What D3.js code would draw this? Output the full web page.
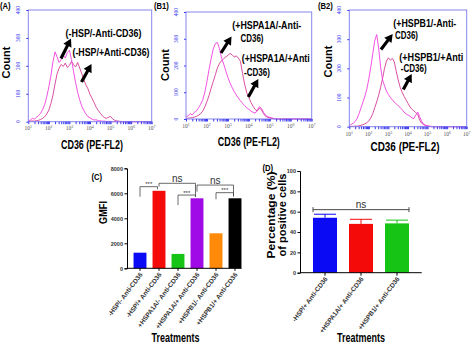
<!DOCTYPE html>
<html>
<head>
<meta charset="utf-8">
<style>
body { margin: 0; background: #fff; }
svg { display: block; font-family: "Liberation Sans", Arial, sans-serif; }
.nb { font-weight: bold; }
</style>
</head>
<body>
<script src="https://cdn.jsdelivr.net/npm/d3@7/dist/d3.min.js"></script>
<script>
var width = 474, height = 344;

// flow histograms: counts per 0.1 log10 bin, starting at 10^1
var binStart = 1, binStep = 0.1;
var hspNeg = [3,6,12,9,16,22,30,44,62,90,125,165,215,250,232,212,222,238,228,248,256,222,180,140,105,78,56,40,28,18,14,9,6,7,4,3,2,2,1,1,1,0,0,0,0,0,0,0,0];
var hspPos = [1,2,3,2,4,5,8,12,18,28,42,65,95,135,172,192,205,198,210,194,202,216,204,196,212,192,172,150,132,118,98,84,68,52,40,30,21,15,12,16,19,10,5,3,2,1,0,0,0];
var a1aNeg = [8,12,20,15,25,30,42,55,72,100,140,185,225,262,282,286,262,228,205,180,155,135,118,102,90,78,68,58,50,42,36,30,25,22,32,46,40,25,14,9,6,4,2,1,0,0,0,0,0];
var a1aPos = [2,3,4,5,7,10,14,20,30,45,65,88,115,140,165,192,208,218,226,232,238,245,240,232,236,228,215,170,130,98,80,62,48,36,30,40,35,20,10,6,4,2,1,0,0,0,0,0,0];
var b1Neg = [4,8,12,18,28,45,65,85,105,130,165,205,250,295,316,270,205,160,140,122,110,100,92,84,78,72,66,58,50,44,40,36,30,28,40,50,34,18,9,5,3,2,1,0,0,0,0,0,0];
var b1Pos = [0,1,1,2,2,3,5,7,10,14,20,30,45,65,85,108,135,165,200,225,236,228,234,222,190,160,135,118,104,92,80,68,60,54,48,42,22,12,7,4,2,1,0,0,0,0,0,0,0];
var countTicks = [0, 100, 200, 300, 400];
var decades = [1, 2, 3, 4, 5, 6, 7];

// GMFI
var gmfiLabels = ["-HSP/- Anti-CD36", "-HSP/+ Anti-CD36", "+HSPA1A/- Anti-CD36", "+HSPA1A/+ Anti-CD36", "+HSPB1/- Anti-CD36", "+HSPB1/+ Anti-CD36"];
var gmfiValues = [1250, 6200, 1150, 5600, 2800, 5600];
var gmfiColors = ["#0a0af5", "#f50a0a", "#16c416", "#a00ae6", "#ff8a0a", "#000000"];
var gmfiTicks = [0, 2000, 4000, 6000, 8000];
// comparisons: bar a vs bar b, bracket top and leg ends in GMFI units
var gmfiSig = [
  {a: 0, b: 1, text: "***", top: 6530, endA: 5730, endB: 6320},
  {a: 1, b: 3, text: "ns",  top: 6800, endA: 6530, endB: 5730},
  {a: 2, b: 3, text: "***", top: 5860, endA: 5060, endB: 5700},
  {a: 3, b: 5, text: "ns",  top: 6660, endA: 6130, endB: 5730},
  {a: 4, b: 5, text: "***", top: 6050, endA: 5520, endB: 5780}
];

// % positive cells
var pctLabels = ["-HSP/+ Anti-CD36", "+HSPA1A/+ Anti-CD36", "+HSPB1/+ Anti-CD36"];
var pctValues = [54, 48, 48.5];
var pctErrors = [3.5, 4.5, 3.2];
var pctColors = ["#0a0af5", "#f50a0a", "#16c416"];
var pctTicks = [0, 20, 40, 60, 80, 100];
var pctNs = 62;

var svg = d3.select("body").append("svg")
    .attr("width", width)
    .attr("height", height);

var negColor = "#f03ee0", posColor = "#d23c96";

function arrow(g, x1, y1, x2, y2) {
  var dx = x2 - x1, dy = y2 - y1, len = Math.sqrt(dx*dx + dy*dy);
  var ux = dx/len, uy = dy/len, px = -uy, py = ux;
  var hl = 8, hw = 4.5, sw = 1.6;
  var bx = x2 - ux*hl, by = y2 - uy*hl;
  var pts = [
    [x1 + px*sw, y1 + py*sw], [bx + px*sw, by + py*sw], [bx + px*hw, by + py*hw],
    [x2, y2],
    [bx - px*hw, by - py*hw], [bx - px*sw, by - py*sw], [x1 - px*sw, y1 - py*sw]
  ];
  g.append("polygon").attr("points", pts.map(function(p){ return p.join(","); }).join(" ")).attr("fill", "#000");
}

function histPanel(p) {
  var x = d3.scaleLog().domain([10, 1e7]).range([p.left, p.right]);
  var y = d3.scaleLinear().domain([0, 400]).range([p.bottom, p.top]);
  var g = svg.append("g");

  var line = d3.line()
    .x(function(d) { return x(Math.pow(10, d[0])); })
    .y(function(d) { return y(d[1]); });

  p.series.forEach(function(s) {
    var pts = s.values.map(function(v, i) { return [binStart + i*binStep, v]; });
    pts.push([7, 0]);
    g.append("path").attr("d", line(pts))
      .attr("fill", "none").attr("stroke", s.color).attr("stroke-width", 0.9);
  });

  // frame
  g.append("rect")
    .attr("x", p.left).attr("y", p.top)
    .attr("width", p.right - p.left).attr("height", p.bottom - p.top)
    .attr("fill", "none").attr("stroke", "#8585ee").attr("stroke-width", 1);

  // minor ticks along the log axis
  var minor = [];
  for (var e = 1; e < 7; e++) for (var k = 1; k < 10; k++) minor.push(k * Math.pow(10, e));
  minor.push(1e7);
  g.append("g").attr("transform", "translate(0," + p.bottom + ")")
    .call(d3.axisBottom(x).tickValues(minor).tickSize(2.5).tickFormat(""))
    .call(function(a) { a.select(".domain").remove(); a.selectAll("line").attr("stroke", "#3a3aee"); });

  g.append("g").attr("transform", "translate(" + p.left + ",0)")
    .call(d3.axisLeft(y).tickValues(countTicks).tickSize(2).tickFormat(""))
    .call(function(a) { a.select(".domain").remove(); a.selectAll("line").attr("stroke", "#3a3aee"); });

  g.selectAll(".yl").data(countTicks).enter().append("text")
    .attr("transform", function(d) { return "translate(" + (p.left - 8) + "," + y(d) + ") rotate(-90)"; })
    .attr("text-anchor", "middle")
    .attr("font-size", 5.5).attr("fill", "#3a3aee").attr("font-family", "Liberation Serif, serif")
    .text(function(d) { return d; });

  var xl = g.selectAll(".xl").data(decades).enter().append("text")
    .attr("x", function(d) { return x(Math.pow(10, d)); })
    .attr("y", p.bottom + p.labelDy)
    .attr("text-anchor", "middle")
    .attr("font-size", 5.5).attr("fill", "#555").attr("font-family", "Liberation Serif, serif");
  xl.append("tspan").text("10");
  xl.append("tspan").attr("dy", -2.5).attr("font-size", 4).text(function(d) { return d; });

  g.append("text").attr("class", "nb")
    .attr("x", (p.left + p.right)/2 + p.titleDx).attr("y", p.titleY)
    .attr("text-anchor", "middle").attr("font-size", 12)
    .attr("data-w", p.titleW)
    .text("CD36 (PE-FL2)");

  g.append("text").attr("class", "nb")
    .attr("transform", "translate(" + p.countX + "," + p.countY + ") rotate(-90)")
    .attr("text-anchor", "middle").attr("font-size", 11)
    .text("Count");

  g.append("text").attr("class", "nb")
    .attr("x", p.tagX).attr("y", p.tagY).attr("font-size", 9)
    .attr("data-f", 0.85)
    .text(p.tag);

  p.notes.forEach(function(n) {
    g.append("text").attr("class", "nb")
      .attr("x", n[1]).attr("y", n[2]).attr("font-size", 10.5)
      .attr("data-w", n[3])
      .text(n[0]);
  });
  p.arrows.forEach(function(a) { arrow(g, a[0], a[1], a[2], a[3]); });
}

histPanel({
  left: 28.3, right: 151.7, top: 10, bottom: 121.7, labelDy: 8.5,
  titleDx: 2, titleY: 149, titleW: 62, countX: 10, countY: 62.5, tag: "(A)", tagX: 0, tagY: 9,
  series: [{values: hspPos, color: posColor}, {values: hspNeg, color: negColor}],
  notes: [["(-HSP/-Anti-CD36)", 65.5, 36.5, 76], ["(-HSP/+Anti-CD36)", 72.5, 55.5, 77]],
  arrows: [[61, 58.5, 71, 38.5], [81.5, 82, 91.5, 64]]
});

histPanel({
  left: 186, right: 311.7, top: 12, bottom: 119, labelDy: 9,
  titleDx: 0, titleY: 146, titleW: 62, countX: 169, countY: 65, tag: "(B1)", tagX: 154, tagY: 8.5,
  series: [{values: a1aPos, color: posColor}, {values: a1aNeg, color: negColor}],
  notes: [["(+HSPA1A/-Anti-", 232.3, 29, 69], ["CD36)", 240.5, 42, 23], ["(+HSPA1A/+Anti", 241.7, 62, 68], ["-CD36)", 244, 75.5, 26]],
  arrows: [[221, 53, 231.5, 36.5], [248.3, 97, 258.3, 79]]
});

histPanel({
  left: 349.3, right: 466.7, top: 10, bottom: 126.7, labelDy: 9.5,
  titleDx: -3, titleY: 151, titleW: 69, countX: 332, countY: 61.5, tag: "(B2)", tagX: 318, tagY: 9,
  series: [{values: b1Pos, color: posColor}, {values: b1Neg, color: negColor}],
  notes: [["(+HSPB1/-Anti-", 393.3, 27, 63], ["CD36)", 395, 39, 23], ["(+HSPB1/+Anti", 399.3, 60.5, 64], ["-CD36)", 400.7, 72, 26]],
  arrows: [[381, 49.5, 392.7, 34], [403.3, 89.5, 411.7, 74]]
});

// ---- (C) GMFI bar chart
(function() {
  var x0 = 127, x1 = 241.5;
  var x = d3.scaleBand().domain(gmfiLabels).range([130.5, 244.5]).paddingInner(0.32).paddingOuter(0.16);
  var y = d3.scaleLinear().domain([0, 8000]).range([268.3, 168.3]);
  var g = svg.append("g");

  g.selectAll("rect").data(gmfiValues).enter().append("rect")
    .attr("x", function(d, i) { return x(gmfiLabels[i]); })
    .attr("width", x.bandwidth())
    .attr("y", function(d) { return y(d); })
    .attr("height", function(d) { return y(0) - y(d); })
    .attr("fill", function(d, i) { return gmfiColors[i]; });

  g.append("g").attr("transform", "translate(" + x0 + ",0)")
    .call(d3.axisLeft(y).tickValues(gmfiTicks).tickFormat(d3.format("d")).tickSize(2.5).tickPadding(1.5))
    .call(function(a) {
      a.selectAll("text").attr("font-size", 5.5).attr("font-weight", "bold").attr("fill", "#333");
    });

  g.append("g").attr("transform", "translate(0," + y(0) + ")")
    .call(d3.axisBottom(x).tickSize(2.5).tickFormat(""))
    .call(function(a) { a.select(".domain").remove(); });
  g.append("line").attr("x1", x0).attr("x2", x1).attr("y1", y(0)).attr("y2", y(0)).attr("stroke", "#000");

  g.selectAll(".xl").data(gmfiLabels).enter().append("text")
    .attr("transform", function(d) { return "translate(" + (x(d) + x.bandwidth()/2 + 1) + "," + (y(0) + 5) + ") rotate(-53)"; })
    .attr("text-anchor", "end").attr("dy", "0.35em")
    .attr("font-size", 6.5).attr("font-weight", "bold").attr("fill", "#333")
    .text(function(d) { return d; });

  var cx = function(i) { return x(gmfiLabels[i]) + x.bandwidth()/2; };
  gmfiSig.forEach(function(s) {
    var xa = cx(s.a), xb = cx(s.b) - 1.5;
    g.append("path")
      .attr("d", "M" + xa + "," + y(s.endA) + "V" + y(s.top) + "H" + xb + "V" + y(s.endB))
      .attr("fill", "none").attr("stroke", "#444").attr("stroke-width", 0.8);
    g.append("text")
      .attr("x", (xa + xb)/2).attr("y", y(s.top) - (s.text == "ns" ? 1 : 0.5))
      .attr("text-anchor", "middle")
      .attr("font-size", s.text == "ns" ? 10 : 6).attr("fill", "#333")
      .text(s.text);
  });

  g.append("text").attr("class", "nb")
    .attr("transform", "translate(107,212.5) rotate(-90)")
    .attr("text-anchor", "middle").attr("font-size", 11.5).attr("data-w", 23).text("GMFI");
  g.append("text").attr("class", "nb")
    .attr("x", 175.5).attr("y", 341.5).attr("text-anchor", "middle").attr("font-size", 13).attr("data-w", 48).text("Treatments");
  g.append("text").attr("class", "nb")
    .attr("x", 91.5).attr("y", 180).attr("font-size", 9).attr("data-f", 0.85).text("(C)");
})();

// ---- (D) percentage of positive cells
(function() {
  var x0 = 300, x1 = 421.7;
  var x = d3.scaleBand().domain(pctLabels).range([307, 415]).paddingInner(1/3).paddingOuter(1/6);
  var y = d3.scaleLinear().domain([0, 100]).range([272.7, 171]);
  var g = svg.append("g");

  g.selectAll(".err").data(pctValues).enter().append("path")
    .attr("d", function(d, i) {
      var c = x(pctLabels[i]) + x.bandwidth()/2, t = y(d + pctErrors[i]);
      return "M" + c + "," + y(d) + "V" + t + "M" + (c - 11) + "," + t + "H" + (c + 11);
    })
    .attr("stroke", function(d, i) { return pctColors[i]; }).attr("stroke-width", 1).attr("fill", "none");

  g.selectAll(".bar").data(pctValues).enter().append("rect")
    .attr("x", function(d, i) { return x(pctLabels[i]); })
    .attr("width", x.bandwidth())
    .attr("y", function(d) { return y(d); })
    .attr("height", function(d) { return y(0) - y(d); })
    .attr("fill", function(d, i) { return pctColors[i]; });

  g.append("g").attr("transform", "translate(" + x0 + ",0)")
    .call(d3.axisLeft(y).tickValues(pctTicks).tickSize(2.5).tickPadding(1.5))
    .call(function(a) {
      a.selectAll("text").attr("font-size", 5.5).attr("font-weight", "bold").attr("fill", "#333");
    });

  g.append("g").attr("transform", "translate(0," + y(0) + ")")
    .call(d3.axisBottom(x).tickSize(3).tickFormat(""))
    .call(function(a) { a.select(".domain").remove(); });
  g.append("line").attr("x1", x0).attr("x2", x1).attr("y1", y(0)).attr("y2", y(0)).attr("stroke", "#000");

  g.selectAll(".xl").data(pctLabels).enter().append("text")
    .attr("transform", function(d) { return "translate(" + (x(d) + x.bandwidth()/2 + 1) + "," + (y(0) + 5) + ") rotate(-53)"; })
    .attr("text-anchor", "end").attr("dy", "0.35em")
    .attr("font-size", 6.5).attr("font-weight", "bold").attr("fill", "#333")
    .text(function(d) { return d; });

  var xa = x(pctLabels[0]), xb = x(pctLabels[2]) + x.bandwidth(), yn = y(pctNs);
  g.append("path")
    .attr("d", "M" + xa + "," + yn + "H" + xb + "M" + xa + "," + (yn - 2.5) + "V" + (yn + 2.5) + "M" + xb + "," + (yn - 2.5) + "V" + (yn + 2.5))
    .attr("stroke", "#333").attr("stroke-width", 0.9).attr("fill", "none");
  g.append("text").attr("x", (xa + xb)/2).attr("y", yn - 1.5)
    .attr("text-anchor", "middle").attr("font-size", 10).attr("fill", "#333").text("ns");

  var yt = g.append("g").attr("transform", "translate(275,215) rotate(-90)");
  yt.append("text").attr("class", "nb").attr("text-anchor", "middle").attr("font-size", 11.5)
    .attr("data-w", 87).text("Percentage (%)");
  yt.append("text").attr("class", "nb").attr("text-anchor", "middle").attr("font-size", 11.5)
    .attr("y", 11).attr("data-w", 83).text("of positive cells");

  g.append("text").attr("class", "nb")
    .attr("x", 361).attr("y", 341.5).attr("text-anchor", "middle").attr("font-size", 13).attr("data-w", 48).text("Treatments");
  g.append("text").attr("class", "nb")
    .attr("x", 262.5).attr("y", 170.5).attr("font-size", 9).attr("data-f", 0.85).text("(D)");
})();

// condensed lettering: squeeze text to a set width or by a factor
svg.selectAll("text").each(function() {
  var t = d3.select(this), w = t.attr("data-w"), f = t.attr("data-f");
  if (!w && !f) return;
  var target = w ? +w : this.getComputedTextLength() * +f;
  t.attr("textLength", target).attr("lengthAdjust", "spacingAndGlyphs");
});
</script>
</body>
</html>
